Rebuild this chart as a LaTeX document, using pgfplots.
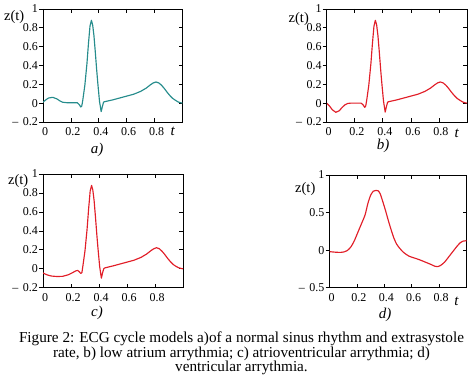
\documentclass[border=0pt]{standalone}
\usepackage{fontspec}
\setmainfont{Liberation Serif}
\usepackage{pgfplots}
\usepackage{pgfplotstable}
\pgfplotsset{compat=1.18}
\definecolor{ecgteal}{RGB}{38,140,140}
\definecolor{ecgred}{RGB}{225,30,40}

\pgfplotstableread{
t z
0.00 0.01
0.02 0.035
0.04 0.055
0.07 0.062
0.10 0.045
0.12 0.025
0.14 0.01
0.17 0.005
0.21 0.005
0.245 0.005
0.258 -0.012
0.271 -0.04
0.278 -0.03
0.285 0.03
0.30 0.19
0.315 0.42
0.326 0.635
0.337 0.82
0.347 0.88
0.356 0.83
0.365 0.72
0.374 0.56
0.385 0.35
0.393 0.21
0.405 0.02
0.417 -0.09
0.425 -0.04
0.434 0.01
0.44 0.015
0.50 0.035
0.55 0.055
0.60 0.075
0.65 0.095
0.70 0.125
0.74 0.16
0.77 0.195
0.79 0.215
0.81 0.225
0.83 0.215
0.85 0.19
0.87 0.155
0.89 0.115
0.91 0.08
0.93 0.05
0.95 0.03
0.97 0.012
0.99 0.003
1.00 0.0
}\dataA

\pgfplotstableread{
t z
0.00 0.0
0.02 -0.03
0.04 -0.07
0.065 -0.097
0.09 -0.08
0.11 -0.045
0.13 -0.018
0.15 -0.003
0.17 0.0
0.21 0.0
0.245 0.0
0.258 -0.015
0.271 -0.045
0.278 -0.03
0.285 0.03
0.30 0.19
0.315 0.42
0.326 0.635
0.337 0.82
0.347 0.88
0.356 0.83
0.365 0.72
0.374 0.56
0.385 0.35
0.393 0.21
0.405 0.02
0.417 -0.095
0.425 -0.04
0.434 0.01
0.44 0.015
0.50 0.035
0.55 0.055
0.60 0.075
0.65 0.095
0.70 0.125
0.74 0.16
0.77 0.195
0.79 0.215
0.81 0.225
0.83 0.215
0.85 0.19
0.87 0.155
0.89 0.115
0.91 0.08
0.93 0.05
0.95 0.03
0.97 0.012
0.99 0.003
1.00 0.0
}\dataB

\pgfplotstableread{
t z
0.00 -0.045
0.03 -0.065
0.06 -0.077
0.10 -0.082
0.14 -0.08
0.18 -0.064
0.21 -0.042
0.235 -0.022
0.248 -0.018
0.258 -0.03
0.27 -0.05
0.278 -0.04
0.285 0.03
0.30 0.19
0.315 0.42
0.326 0.635
0.337 0.82
0.347 0.88
0.356 0.83
0.365 0.72
0.374 0.56
0.385 0.35
0.393 0.21
0.405 0.02
0.417 -0.1
0.425 -0.045
0.434 0.0
0.44 0.008
0.50 0.03
0.55 0.05
0.60 0.07
0.65 0.09
0.70 0.12
0.74 0.155
0.77 0.19
0.79 0.21
0.81 0.222
0.83 0.212
0.85 0.185
0.87 0.15
0.89 0.11
0.91 0.075
0.93 0.045
0.95 0.025
0.97 0.01
0.99 0.002
1.00 0.0
}\dataC

\pgfplotstableread{
t z
0.00 -0.02
0.04 -0.027
0.08 -0.03
0.11 -0.022
0.13 -0.005
0.155 0.04
0.18 0.12
0.21 0.25
0.24 0.38
0.26 0.47
0.28 0.62
0.30 0.73
0.32 0.785
0.34 0.795
0.355 0.79
0.37 0.75
0.39 0.64
0.41 0.52
0.43 0.39
0.45 0.27
0.47 0.16
0.49 0.08
0.51 0.03
0.54 -0.03
0.58 -0.08
0.62 -0.105
0.66 -0.13
0.70 -0.16
0.74 -0.19
0.77 -0.215
0.79 -0.22
0.81 -0.205
0.84 -0.16
0.87 -0.09
0.90 -0.02
0.93 0.05
0.955 0.1
0.975 0.12
1.00 0.125
}\dataD

\pgfplotsset{
  ecgcommon/.style={scale only axis, xmin=0, xmax=1,
    ticklabel style={font=\fontsize{12}{12}\selectfont},
    major tick length=4pt,
    every tick/.style={black, line width=0.7pt}},
  ecgmain/.style={ecgcommon,
    axis line style={black, line width=0.8pt},
    tick align=inside,
    xtick={0,0.2,0.4,0.6,0.8},
    xticklabels={\textrm{0},\textrm{0.2},\textrm{0.4},\textrm{0.6},\textrm{0.8}},
    xtick pos=both, xticklabel pos=lower,
    ytick pos=right, yticklabels={},
    xticklabel style={xshift=2pt, yshift=-2pt}},
  ecgleft/.style={ecgcommon, axis line style={draw=none}, tick align=outside,
    xtick=\empty, ytick pos=left, yticklabel style={inner xsep=1pt}},
  curve/.style={line width=1.15pt, line join=round},
}

\begin{document}
\begin{tikzpicture}
\path[use as bounding box] (0pt,0pt) rectangle (474pt,386pt);

% panel a
\begin{axis}[ecgmain, at={(43pt,264pt)}, anchor=south west, width=139.5pt, height=113pt,
  ymin=-0.2, ymax=1, ytick={-0.2,0,0.2,0.4,0.6,0.8,1}]
\addplot[ecgteal, curve] table[x=t,y=z] {\dataA};
\end{axis}
\begin{axis}[ecgleft, at={(43pt,264pt)}, anchor=south west, width=139.5pt, height=113pt,
  ymin=-0.2, ymax=1, ytick={-0.2,0,0.2,0.4,0.6,0.8,1},
  yticklabels={\textrm{\textendash\hspace{4.5pt}0.2},\textrm{0},\textrm{0.2},\textrm{0.4},\textrm{0.6},\textrm{0.8},\textrm{1}}]
\end{axis}

% panel b
\begin{axis}[ecgmain, at={(326.7pt,264pt)}, anchor=south west, width=140.3pt, height=113pt,
  ymin=-0.2, ymax=1, ytick={-0.2,0,0.2,0.4,0.6,0.8,1}]
\addplot[ecgred, curve] table[x=t,y=z] {\dataB};
\end{axis}
\begin{axis}[ecgleft, at={(326.7pt,264pt)}, anchor=south west, width=140.3pt, height=113pt,
  ymin=-0.2, ymax=1, ytick={-0.2,0,0.2,0.4,0.6,0.8,1},
  yticklabels={\textrm{\textendash\hspace{4.5pt}0.2},\textrm{0},\textrm{0.2},\textrm{0.4},\textrm{0.6},\textrm{0.8},\textrm{1}}]
\end{axis}

% panel c
\begin{axis}[ecgmain, at={(43pt,98.3pt)}, anchor=south west, width=140pt, height=113.7pt,
  ymin=-0.2, ymax=1, ytick={-0.2,0,0.2,0.4,0.6,0.8,1}]
\addplot[ecgred, curve] table[x=t,y=z] {\dataC};
\end{axis}
\begin{axis}[ecgleft, at={(43pt,98.3pt)}, anchor=south west, width=140pt, height=113.7pt,
  ymin=-0.2, ymax=1, ytick={-0.2,0,0.2,0.4,0.6,0.8,1},
  yticklabels={\textrm{\textendash\hspace{4.5pt}0.2},\textrm{0},\textrm{0.2},\textrm{0.4},\textrm{0.6},\textrm{0.8},\textrm{1}}]
\end{axis}

% panel d
\begin{axis}[ecgmain, at={(329.5pt,98.3pt)}, anchor=south west, width=137pt, height=112.7pt,
  ymin=-0.5, ymax=1, ytick={-0.5,0,0.5,1}]
\addplot[ecgred, curve, smooth, tension=0.4] table[x=t,y=z] {\dataD};
\end{axis}
\begin{axis}[ecgleft, at={(329.5pt,98.3pt)}, anchor=south west, width=137pt, height=112.7pt,
  ymin=-0.5, ymax=1, ytick={-0.5,0,0.5,1},
  yticklabels={\textrm{\textendash\hspace{4.5pt}0.5},\textrm{0},\textrm{0.5},\textrm{1}}]
\end{axis}

% axis labels
\node[anchor=west, inner sep=0, font=\fontsize{14.5}{15}\selectfont] at (4pt,369pt) {z(t)};
\node[anchor=west, inner sep=0, font=\fontsize{14.5}{15}\selectfont] at (288.5pt,367pt) {z(t)};
\node[anchor=west, inner sep=0, font=\fontsize{14.5}{15}\selectfont] at (8pt,204.5pt) {z(t)};
\node[anchor=west, inner sep=0, font=\fontsize{14.5}{15}\selectfont] at (295pt,197pt) {z(t)};

\node[inner sep=0, font=\fontsize{15}{15}\selectfont\itshape] at (172.7pt,254.5pt) {t};
\node[inner sep=0, font=\fontsize{15}{15}\selectfont\itshape] at (456.7pt,253pt) {t};
\node[inner sep=0, font=\fontsize{15}{15}\selectfont\itshape] at (456.5pt,85pt) {t};

% panel letters
\node[inner sep=0, font=\fontsize{15}{15}\selectfont\itshape] at (97pt,236pt) {a)};
\node[inner sep=0, font=\fontsize{15}{15}\selectfont\itshape] at (383pt,240.5pt) {b)};
\node[inner sep=0, font=\fontsize{15}{15}\selectfont\itshape] at (97pt,73pt) {c)};
\node[inner sep=0, font=\fontsize{15}{15}\selectfont\itshape] at (385pt,71pt) {d)};

% caption
\node[anchor=base, inner sep=0, font=\fontsize{15.2}{15}\selectfont] at (241.5pt,44pt)
  {Figure 2: ECG cycle models a)of a normal sinus rhythm and extrasystole};
\node[anchor=base, inner sep=0, font=\fontsize{15.2}{15}\selectfont] at (241.5pt,29pt)
  {rate, b) low atrium arrythmia; c) atrioventricular arrythmia; d)};
\node[anchor=base, inner sep=0, font=\fontsize{15.2}{15}\selectfont] at (241.5pt,14.5pt)
  {ventricular arrythmia.};
\end{tikzpicture}
\end{document}
